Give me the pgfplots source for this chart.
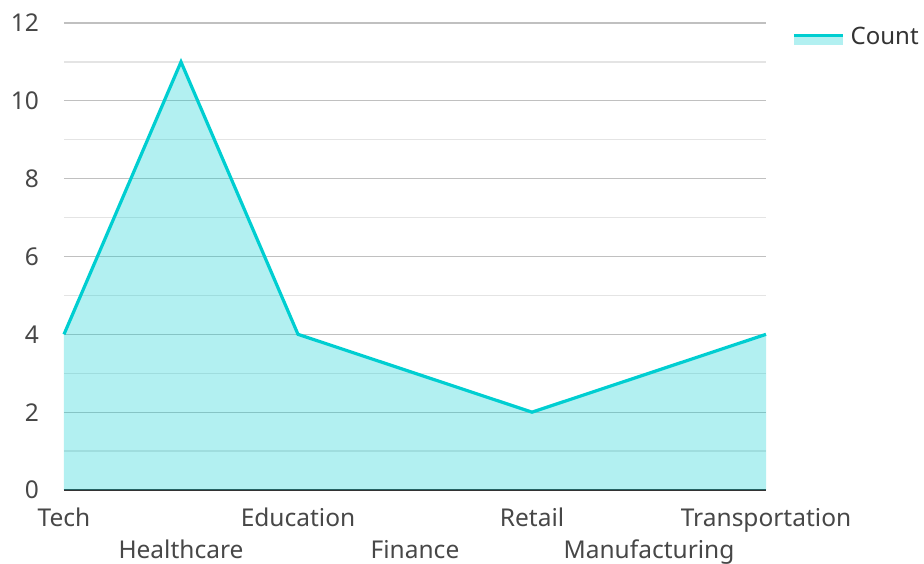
\documentclass[border=0pt]{standalone}
\usepackage{pgfplots}
\pgfplotsset{compat=1.18}
\usepackage{fontspec}
\setmainfont{Noto Sans}
\definecolor{linec}{HTML}{00CED1}
\definecolor{gridmaj}{HTML}{C0C0C0}
\definecolor{gridmin}{HTML}{E4E4E4}
\definecolor{txt}{HTML}{333333}
\begin{document}
\begin{tikzpicture}[x=1pt,y=1pt]
\path[use as bounding box] (-64,-74) rectangle (860,490);
\begin{axis}[
  at={(0,0)}, anchor=south west,
  scale only axis, width=702pt, height=467pt,
  xmin=0, xmax=6, ymin=0, ymax=12,
  xtick={0,1,2,3,4,5,6},
  xticklabels={Tech,\raisebox{-32pt}{Healthcare},Education,\raisebox{-32pt}{Finance},Retail,\raisebox{-32pt}{Manufacturing},Transportation},
  ytick={0,2,4,6,8,10,12},
  minor ytick={1,3,5,7,9,11},
  ymajorgrids, yminorgrids,
  major grid style={gridmaj, line width=1.3pt},
  minor grid style={gridmin, line width=1.3pt},
  axis lines*=left,
  y axis line style={draw=none},
  x axis line style={txt, line width=1.8pt, -},
  major tick length=0pt, minor tick length=0pt,
  tick style={draw=none},
  /pgf/number format/assume math mode=true,
  every tick label/.append style={font=\fontsize{24.5}{30}\selectfont, text=txt!90!white},
  yticklabel style={anchor=east, inner sep=0pt, xshift=-25pt},
  xticklabel style={anchor=base, inner sep=0pt, yshift=-37pt},
  legend style={at={(rel axis cs:1,1)}, anchor=north west, xshift=24pt, yshift=0pt, draw=none, fill=none,
    font=\fontsize{24}{28}\selectfont, text=txt, inner sep=2pt, nodes={inner xsep=6pt}},
  clip=false,
]
\addlegendimage{legend image code/.code={
    \fill[linec!30!white, draw=none] (0pt,-8pt) rectangle (49pt,1pt);
    \draw[linec, line width=3.5pt] (0pt,1pt) -- (49pt,1pt);
  }}
\addlegendentry{Count}
\addplot[draw=none, fill=linec, fill opacity=0.3, forget plot] coordinates {
  (0,4) (1,11) (2,4) (3,3) (4,2) (5,3) (6,4)
} \closedcycle;
\addplot[linec, line width=3.2pt, line join=miter, forget plot] coordinates {
  (0,4) (1,11) (2,4) (3,3) (4,2) (5,3) (6,4)
};
\end{axis}
\end{tikzpicture}
\end{document}
